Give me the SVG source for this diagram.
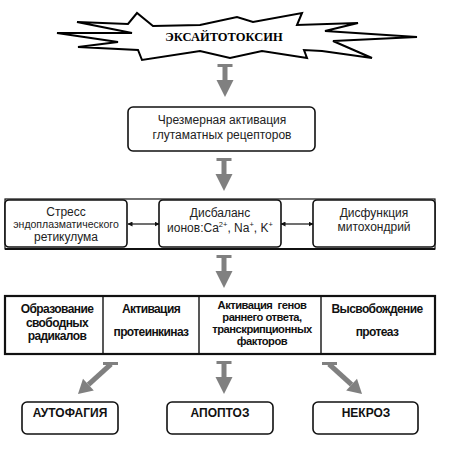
<svg xmlns="http://www.w3.org/2000/svg" width="474" height="452" viewBox="0 0 474 452">
<style>
.t{font-family:"Liberation Sans",Arial,sans-serif;font-size:12px;fill:#222;text-anchor:middle}
.s{font-size:10.5px}
.b{font-weight:bold;fill:#111}
.c3{font-size:11.2px}
.box{fill:#fff;stroke:#111;stroke-width:1.6}
.ga{fill:#808080}
.dl{stroke:#111;stroke-width:1.2;fill:none;marker-start:url(#ah);marker-end:url(#ah)}
</style>
<defs>
<marker id="ah" viewBox="0 0 10 10" refX="9" refY="5" markerWidth="5" markerHeight="5" orient="auto-start-reverse" markerUnits="userSpaceOnUse">
<path d="M0,0 L10,5 L0,10 z" fill="#111"/>
</marker>
<g id="down" class="ga">
<rect x="-7.5" y="0" width="15" height="3"/>
<rect x="-2.5" y="0" width="5" height="18"/>
<polygon points="-8.5,16 8.5,16 0,33"/>
</g>
<g id="diag" class="ga">
<rect x="103" y="362" width="15" height="3"/>
<polygon points="112.7,365.9 109.3,362.2 86.7,382.7 90.1,386.4"/>
<polygon points="93.8,390.5 83.0,378.7 78,394"/>
</g>
</defs>

<g id="excitotoxin">
<polygon points="77,22 128,24 137,13 153,26 200,25 237,17 253,22 302,13 297,25 358,23 325,31 417,37 333,41 372,58 322,51 304,50 307,58 262,51 230,58 200,51 142,60 138,50 78,47 118,42 57,33 132,33" fill="#fff" stroke="#000" stroke-width="2" stroke-linejoin="miter"/>
<text x="224" y="41" font-family="Liberation Serif,'Times New Roman',serif" font-weight="bold" font-size="12.5" text-anchor="middle" fill="#000">ЭКСАЙТОТОКСИН</text>
</g>

<g id="receptors">
<rect class="box" x="128" y="107" width="187" height="44" rx="5"/>
<text class="t" x="222" y="124">Чрезмерная активация</text>
<text class="t" x="222" y="139">глутаматных рецепторов</text>
</g>

<g id="row3">
<rect x="5" y="199" width="430" height="50" fill="#fff" stroke="#111" stroke-width="1.2"/>
<line x1="5" y1="249" x2="435" y2="249" stroke="#111" stroke-width="2.2"/>
</g>
<g id="er-stress">
<rect class="box" x="5" y="200" width="122" height="47" rx="4"/>
<text class="t" x="66" y="216">Стресс</text>
<text class="t s" x="66" y="228">эндоплазматического</text>
<text class="t" x="66" y="241">ретикулума</text>
</g>
<g id="ion-imbalance">
<rect class="box" x="159" y="200" width="122" height="47" rx="4"/>
<text class="t" x="220" y="217">Дисбаланс</text>
<text class="t" x="220" y="232">ионов:Ca<tspan font-size="7.5" dy="-5">2+</tspan><tspan dy="5">, Na</tspan><tspan font-size="7.5" dy="-5">+</tspan><tspan dy="5">, K</tspan><tspan font-size="7.5" dy="-5">+</tspan></text>
</g>
<g id="mito">
<rect class="box" x="313" y="200" width="122" height="47" rx="4"/>
<text class="t" x="374" y="217">Дисфункция</text>
<text class="t" x="374" y="231">митохондрий</text>
</g>

<g id="row4">
<rect x="5" y="296" width="430" height="58" fill="#fff" stroke="#111" stroke-width="2.2"/>
<line x1="103" y1="296" x2="103" y2="354" stroke="#111" stroke-width="1.4"/>
<line x1="199" y1="296" x2="199" y2="354" stroke="#111" stroke-width="1.4"/>
<line x1="321" y1="296" x2="321" y2="354" stroke="#111" stroke-width="1.4"/>
</g>
<g id="free-radicals">
<text class="t b" x="57" y="313" letter-spacing="-0.6">Образование</text>
<text class="t b" x="57" y="327" letter-spacing="-0.6">свободных</text>
<text class="t b" x="57" y="340" letter-spacing="-0.6">радикалов</text>
</g>
<g id="proteinkinases">
<text class="t b" x="151" y="313" letter-spacing="-0.6">Активация</text>
<text class="t b" x="151" y="336" letter-spacing="-0.6">протеинкиназ</text>
</g>
<g id="early-genes">
<text class="t b c3" x="262" y="309" letter-spacing="-0.5" xml:space="preserve">Активация  генов</text>
<text class="t b c3" x="262" y="321" letter-spacing="-0.5">раннего ответа,</text>
<text class="t b c3" x="262" y="333" letter-spacing="-0.5">транскрипционных</text>
<text class="t b c3" x="262" y="345" letter-spacing="-0.5">факторов</text>
</g>
<g id="proteases">
<text class="t b" x="377" y="313" letter-spacing="-0.6">Высвобождение</text>
<text class="t b" x="377" y="336" letter-spacing="-0.6">протеаз</text>
</g>

<g id="autophagy">
<rect class="box" x="22" y="402" width="96" height="32" rx="5"/>
<text class="t b" x="70" y="417" font-size="11.5">АУТОФАГИЯ</text>
</g>
<g id="apoptosis">
<rect class="box" x="167" y="402" width="106" height="32" rx="5"/>
<text class="t b" x="220" y="417" font-size="11.5">АПОПТОЗ</text>
</g>
<g id="necrosis">
<rect class="box" x="313" y="402" width="105" height="32" rx="5"/>
<text class="t b" x="366" y="417" font-size="11.5">НЕКРОЗ</text>
</g>

<g id="connectors">
<use href="#down" x="225" y="64"/>
<use href="#down" x="224" y="158"/>
<use href="#down" x="224" y="255"/>
<use href="#down" x="224" y="361"/>
<use href="#diag"/>
<use href="#diag" transform="translate(440,0) scale(-1,1)"/>
<line class="dl" x1="128" y1="224" x2="159" y2="224"/>
<line class="dl" x1="281" y1="224" x2="313" y2="224"/>
</g>
</svg>
